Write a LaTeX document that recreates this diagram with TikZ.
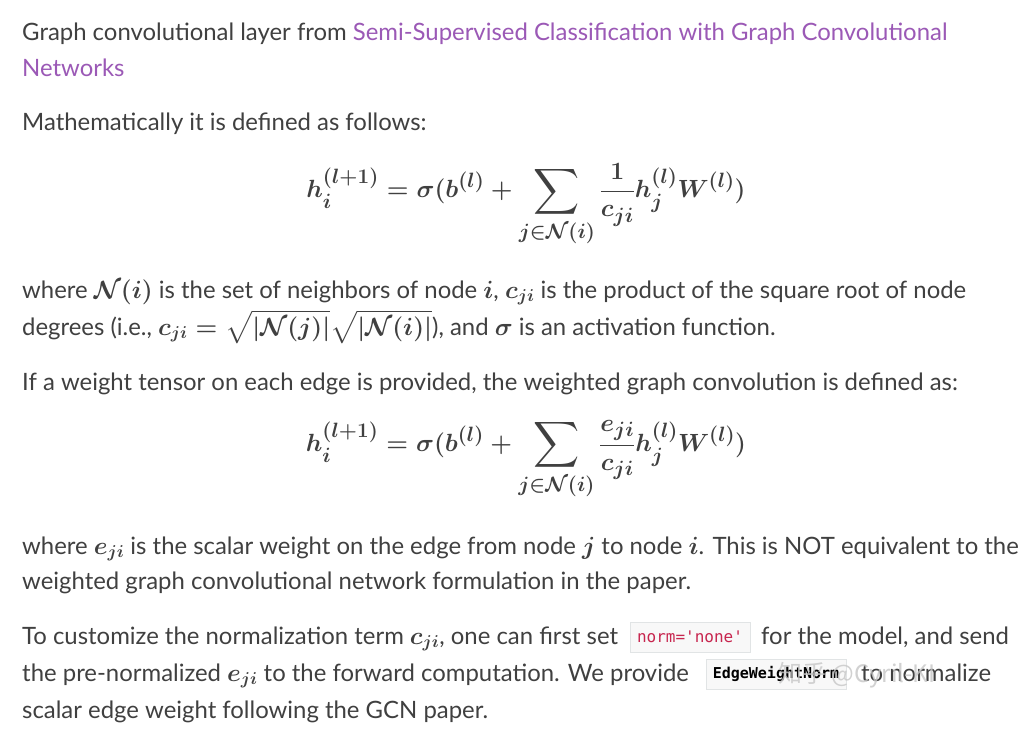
\documentclass[tikz,border=0pt]{standalone}
\usepackage{amsmath,amssymb}
\usepackage{fontspec}
\setmainfont{Lato}
\setmonofont{DejaVu Sans Mono}
\newfontfamily\cjk{Noto Sans CJK SC}
\definecolor{txt}{HTML}{404040}
\definecolor{link}{HTML}{9B59B6}
\definecolor{codered}{HTML}{C7254E}
\definecolor{codebg}{HTML}{F8F8F8}
\definecolor{codeline}{HTML}{E1E4E5}
\newcommand{\mm}[1]{{\fontsize{27}{30}\selectfont\boldmath$#1$}}
\tikzset{
 line/.style={anchor=base west,inner sep=0pt,text=txt,font=\fontsize{23.9}{28}\selectfont},
 eq/.style={anchor=center,inner sep=0pt,text=txt,font=\fontsize{32}{36}\selectfont\boldmath},
 code/.style={draw=codeline,fill=codebg,inner xsep=7pt,inner ysep=5pt,font=\ttfamily\fontsize{16}{19}\selectfont,anchor=center,minimum height=30pt}
}
\begin{document}
\begin{tikzpicture}[x=1pt,y=-1pt]
\useasboundingbox[fill=white] (0,0) rectangle (1035,742);
\node[line] (l1) at (22,40) {Graph convolutional layer from \textcolor{link}{Semi-Supervised Classification with Graph Convolutional}};
\node[line] (l2) at (22,76) {\textcolor{link}{Networks}};
\node[line] (l3) at (22,130) {Mathematically it is defined as follows:};
\node[eq] (e1) at (526,205) {$\displaystyle h_i^{(l+1)} = \sigma(b^{(l)} + \sum_{j\in\mathcal{N}(i)} \frac{1}{c_{ji}} h_j^{(l)} W^{(l)})$};
\node[line] (l4) at (22,298) {where \mm{\mathcal{N}(i)} is the set of neighbors of node \mm{i}, \mm{c_{ji}} is the product of the square root of node};
\node[line] (l5) at (22,335) {degrees (i.e., \mm{c_{ji}=\sqrt{|\mathcal{N}(j)|}\sqrt{|\mathcal{N}(i)|}}), and \mm{\sigma} is an activation function.};
\node[line] (l6) at (22,390) {If a weight tensor on each edge is provided, the weighted graph convolution is defined as:};
\node[eq] (e2) at (526,460) {$\displaystyle h_i^{(l+1)} = \sigma(b^{(l)} + \sum_{j\in\mathcal{N}(i)} \frac{e_{ji}}{c_{ji}} h_j^{(l)} W^{(l)})$};
\node[line] (l7) at (22,554) {where \mm{e_{ji}} is the scalar weight on the edge from node \mm{j} to node \mm{i}. This is NOT equivalent to the};
\node[line] (l8) at (22,589) {weighted graph convolutional network formulation in the paper.};
\node[line] (l9) at (22,644) {To customize the normalization term \mm{c_{ji}}, one can first set};
\node[code,text=codered] (c1) at (690,637) {norm='none'};
\node[line] (l9b) at (761,644) {for the model, and send};
\node[line] (l10) at (22,681) {the pre-normalized \mm{e_{ji}} to the forward computation. We provide};
\node[code,text=black,font=\ttfamily\bfseries\fontsize{15}{19}\selectfont] (c2) at (776,674) {EdgeWeightNorm};
\node[line] (l10b) at (861,681) {to normalize};
\node[line] (l11) at (22,718) {scalar edge weight following the GCN paper.};
\node[anchor=base west,inner sep=0pt,text=gray!45,opacity=0.8,font=\cjk\fontsize{24}{28}\selectfont] (wm) at (778,682) {知乎 @Cyril-KI};
\end{tikzpicture}
\end{document}
